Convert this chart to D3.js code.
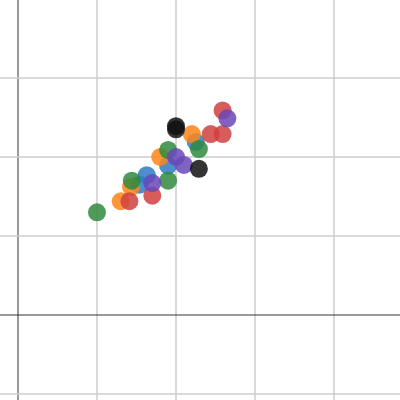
<!DOCTYPE html><html><head><script src="https://cdn.jsdelivr.net/npm/d3@7"></script>
<style>body{margin:0;background:#fff}</style></head><body><svg width="400" height="400"></svg><script>
const seriesNames=["blue","orange","green","red","purple","black"];
const colors=["#2e7bc4","#ff8518","#2f8a3f","#d04040","#6a46b8","#111111"];
const xs=[[2.25,1.9,1.63,1.54],[2.2,1.8,1.3,1.43],[1.0,1.9,2.29,1.9,1.44],[2.59,2.44,2.59,1.70,1.41],[2.65,2.0,2.1,1.70],[2.0,2.0,2.29]];
const ys=[[2.19,1.89,1.77,1.65],[2.29,2.0,1.44,1.62],[1.30,2.09,2.1,1.70,1.70],[2.59,2.29,2.29,1.51,1.44],[2.49,2.0,1.9,1.67],[2.39,2.35,1.85]];
const gridTicks=[-1,0,1,2,3,4,5];
const svg=d3.select("svg");
const x=d3.scaleLinear().domain([0,1]).range([18,97]);
const y=d3.scaleLinear().domain([0,1]).range([315,236]);
svg.selectAll(".gx").data(gridTicks).enter().append("line").attr("x1",d=>x(d)).attr("x2",d=>x(d)).attr("y1",0).attr("y2",400).attr("stroke",d=>d===0?"#333":"#ccc").attr("stroke-width",d=>d===0?1:1.5);
svg.selectAll(".gy").data(gridTicks).enter().append("line").attr("y1",d=>y(d)).attr("y2",d=>y(d)).attr("x1",0).attr("x2",400).attr("stroke",d=>d===0?"#333":"#ccc").attr("stroke-width",d=>d===0?1:1.5);
seriesNames.forEach((s,i)=>{
 svg.append("g").selectAll("circle").data(xs[i].map((v,j)=>[v,ys[i][j]])).enter().append("circle")
  .attr("cx",d=>x(d[0])).attr("cy",d=>y(d[1])).attr("r",9).attr("fill",colors[i]).attr("fill-opacity",0.85);
});
</script></body></html>
